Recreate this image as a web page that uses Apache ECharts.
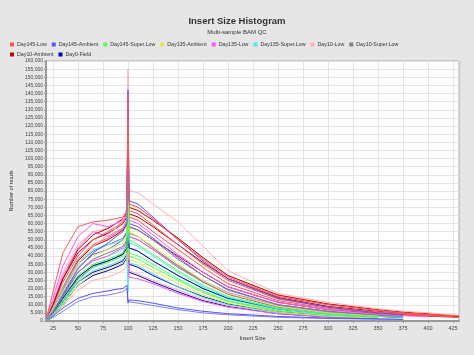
<!DOCTYPE html>
<html><head><meta charset="utf-8">
<script src="https://cdn.jsdelivr.net/npm/echarts@6/dist/echarts.min.js"></script>
<style>html,body{margin:0;padding:0;background:#e6e6e6}#c{width:474px;height:355px}</style>
</head><body><div id="c"></div>
<script>
// Insert size sample points (x) shared by all lines
const insertSizes = [19,25,35,50,65,80,88,95,99,100,101,110,125,150,175,200,250,300,350,375,400,431];
const xTicks = [25,50,75,100,125,150,175,200,225,250,275,300,325,350,375,400,425];
const legendNames = ['Day145-Low','Day145-Ambient','Day145-Super.Low','Day135-Ambient','Day135-Low','Day135-Super.Low','Day10-Low','Day10-Super.Low','Day10-Ambient','Day0-Field'];
const palette = ['#ff5555','#5555ff','#55ff55','#e8e84a','#ff55ff','#55e8e8','#ffafaf','#808080','#c00000','#0000c0'];

// Number of reads per line, null = line ended
const line01 = [3000,18000,42000,58000,61000,62000,63000,64000,67000,140000,72000,70000,63000,50000,38000,27000,15000,10000,6500,5000,4000,3200];
const line02 = [1000,6000,16000,32000,42000,48000,52000,55000,60000,142000,74000,72000,64000,50000,37000,26000,14000,8500,5000,3800,null,null];
const line03 = [500,4000,12000,25000,33000,36000,38000,40000,44000,110000,50000,47000,41000,31000,22000,15000,8000,4500,2800,2200,null,null];
const line04 = [1000,7000,18000,33000,40000,44000,46000,48000,52000,120000,55000,52000,46000,35000,25000,17000,9000,5000,3000,null,null,null];
const line05 = [2000,14000,34000,52000,60000,58000,60000,62000,64000,130000,62000,60000,53000,41000,30000,21000,11500,7000,4200,3300,2600,null];
const line06 = [1000,8000,20000,36000,44000,47000,48000,50000,53000,100000,48000,46000,40000,30000,21000,14500,7500,4200,2500,null,null,null];
const line07 = [1000,6000,18000,35000,46000,53000,57000,63000,70000,155000,80000,79000,72000,61000,46000,31000,17000,11500,7500,6000,5000,3300];
const line08 = [1000,5000,15000,30000,38000,42000,44000,46000,50000,115000,54000,52000,45000,34000,24000,16500,8500,5000,3000,2400,null,null];
const line09 = [2000,10000,26000,44000,53000,57000,60000,63000,67000,135000,70000,68000,62000,51000,39000,28000,16000,10500,7000,5500,4500,3000];
const line10 = [1000,5000,14000,27000,34000,37000,39000,41000,45000,105000,45000,43000,37000,28000,20000,14000,7500,4500,2800,2200,null,null];
const line11 = [1500,9000,24000,40000,50000,55000,58000,61000,66000,138000,68000,66000,59000,47000,35000,25000,13500,8500,5500,4300,3400,2600];
const line12 = [500,3000,8000,14000,17000,18500,19500,20000,22000,11000,13000,12500,11000,8000,6000,4500,2800,1800,1300,1100,null,null];
const line13 = [1000,5000,14000,28000,35000,38000,40000,42000,46000,90000,42000,40000,35000,26000,18500,12500,6500,3500,2200,null,null,null];
const line14 = [500,3000,10000,22000,29000,32000,34000,36000,40000,80000,38000,36000,31000,23000,16000,11000,5500,3000,2000,null,null,null];
const line15 = [1000,6000,16000,30000,37000,40000,43000,45000,49000,100000,27000,26000,23000,17000,12000,8500,4500,2600,1700,null,null,null];
const line16 = [500,4000,11000,24000,31000,34000,36000,38000,42000,18000,36000,34000,29000,21000,14500,10000,5000,2800,1800,null,null,null];
const line17 = [2000,12000,30000,47000,55000,57000,60000,63000,68000,145000,72000,70000,63000,51000,39000,28000,15500,10000,6500,5200,4200,3000];
const line18 = [1000,7000,19000,35000,43000,47000,49000,51000,55000,110000,58000,56000,50000,38000,28000,19000,10000,6000,3600,2900,null,null];
const line19 = [1500,10000,26000,42000,50000,54000,57000,60000,64000,128000,66000,64000,58000,47000,36000,26000,14500,9000,6000,4800,3800,2800];
const line20 = [500,4000,12000,24000,30000,33000,35000,37000,41000,85000,35000,33000,28000,21000,15000,10500,5500,3000,2000,null,null,null];
const line21 = [1000,8000,21000,38000,47000,51000,54000,57000,62000,125000,64000,62000,55000,44000,33000,23000,12500,7800,5000,4000,3200,2500];
const line22 = [1000,6000,17000,33000,41000,44000,47000,50000,55000,120000,60000,58000,51000,39000,28000,19500,10000,6000,3600,2800,null,null];
const line23 = [500,4000,13000,27000,34000,37000,39000,41000,45000,95000,40000,38000,33000,25000,17500,12000,6000,3300,2100,null,null,null];
const line24 = [300,2000,6000,12000,15000,16000,17000,18000,20000,12000,12000,11000,9500,7000,5000,3800,2300,1500,1100,900,null,null];
const line25 = [1500,11000,28000,45000,55000,52000,55000,57000,61000,115000,52000,50000,44000,34000,25000,17500,9500,5500,3400,2700,null,null];
const line26 = [1000,5000,15000,30000,37000,40000,42000,44000,48000,100000,45000,43000,37000,28000,20000,13500,7000,4000,2500,null,null,null];
const line27 = [500,3000,9000,19000,25000,27000,29000,31000,34000,75000,31000,29000,25000,19000,13500,9500,5000,2800,1800,null,null,null];
const line28 = [500,4000,12000,26000,33000,37000,39000,42000,47000,108000,52000,50000,44000,33000,24000,16500,8500,5000,3000,2400,null,null];
const line29 = [1000,7000,20000,37000,46000,50000,53000,56000,60000,118000,58000,56000,50000,40000,30000,21000,11500,7000,4600,3700,3000,2300];
const line30 = [500,3000,10000,22000,28000,31000,33000,35000,39000,70000,30000,28000,24000,18000,12500,9000,4500,2500,1600,null,null,null];

const lines = [line01,line02,line03,line04,line05,line06,line07,line08,line09,line10,
  line11,line12,line13,line14,line15,line16,line17,line18,line19,line20,
  line21,line22,line23,line24,line25,line26,line27,line28,line29,line30];
const extraColors = {23:'#8080ff'};

const series = lines.map((vals, i) => ({
  name: i < legendNames.length ? legendNames[i] : 'line' + (i + 1),
  type: 'line',
  symbol: 'none',
  silent: true,
  connectNulls: false,
  lineStyle: { width: 1 },
  color: extraColors[i] || palette[i % palette.length],
  data: insertSizes.map((x, k) => [x, vals[k]])
}));
series.reverse();

const chart = echarts.init(document.getElementById('c'), null, {renderer: 'canvas'});
const font = 'Liberation Sans';
chart.setOption({
  backgroundColor: '#e6e6e6',
  animation: false,
  title: {
    text: 'Insert Size Histogram',
    subtext: 'Multi-sample BAM QC',
    left: 'center', top: 11, itemGap: 3,
    textStyle: { fontFamily: font, fontSize: 9.5, fontWeight: 'bold', color: '#333' },
    subtextStyle: { fontFamily: font, fontSize: 6, color: '#333' }
  },
  legend: {
    data: legendNames.map((n, i) => ({ name: n, itemStyle: { color: palette[i] } })),
    left: 10, top: 42, width: 405, padding: 0,
    icon: 'rect', itemWidth: 4, itemHeight: 4, itemGap: 5,
    textStyle: { fontFamily: font, fontSize: 5.3, lineHeight: 5, color: '#333', padding: [0, 0, 0, -2] }
  },
  grid: { left: 44, right: 15, top: 61, bottom: 34, show: true, backgroundColor: '#ffffff', borderColor: '#aaaaaa', borderWidth: 1 },
  xAxis: {
    type: 'value', min: 18, max: 431,
    name: 'Insert Size', nameLocation: 'middle', nameGap: 10,
    nameTextStyle: { fontFamily: font, fontSize: 5.5, color: '#333' },
    axisLine: { show: true, onZero: false, lineStyle: { color: '#999', width: 2 } },
    axisTick: { show: true, customValues: xTicks, length: 2, lineStyle: { color: '#999' } },
    axisLabel: { customValues: xTicks, fontFamily: font, fontSize: 5.5, color: '#444', margin: 4 },
    splitLine: { show: true, lineStyle: { color: '#e4e4e4', width: 1 } }
  },
  yAxis: {
    type: 'value', min: 0, max: 160000, interval: 5000,
    name: 'Number of reads', nameLocation: 'middle', nameGap: 24,
    nameTextStyle: { fontFamily: font, fontSize: 5.5, color: '#333' },
    axisLine: { show: true, lineStyle: { color: '#999', width: 2 } },
    axisTick: { show: true, length: 2, lineStyle: { color: '#999' } },
    axisLabel: { fontFamily: font, fontSize: 5, color: '#444', margin: 3,
      formatter: v => v.toLocaleString('en-US') },
    splitLine: { show: true, lineStyle: { color: '#e4e4e4', width: 1 } }
  },
  series: series
});
</script></body></html>
